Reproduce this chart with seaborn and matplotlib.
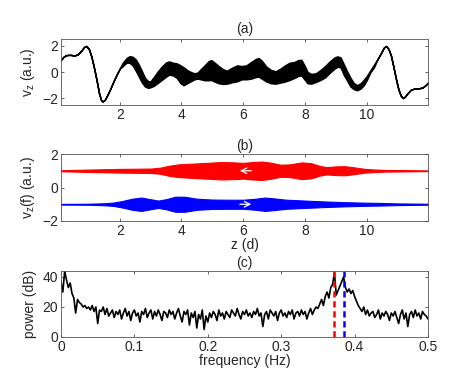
import numpy as np
import pandas as pd
import matplotlib
matplotlib.use("Agg")
import matplotlib.pyplot as plt
import seaborn as sns

# (a) total v_z: slow wave with a fast-oscillation band, read as upper/lower envelope
z_a = [0.1, 0.18, 0.27, 0.4, 0.54, 0.65, 0.75, 0.85, 0.92, 1.0, 1.08, 1.17,
       1.25, 1.33, 1.4, 1.45, 1.52, 1.6, 1.7, 1.8, 1.9, 2.0,
       2.1, 2.22, 2.32, 2.42, 2.52, 2.62, 2.72, 2.82, 2.92, 3.0, 3.1, 3.22,
       3.36, 3.5, 3.6, 3.72, 3.85, 3.97, 4.07, 4.18, 4.3, 4.42, 4.52, 4.62,
       4.75, 4.88, 4.96, 5.05, 5.2, 5.35, 5.48, 5.62, 5.8, 5.95, 6.1, 6.25,
       6.4, 6.5, 6.6, 6.75, 6.9, 7.05, 7.2, 7.35, 7.5, 7.65, 7.78, 7.88,
       7.98, 8.08, 8.2, 8.35, 8.5, 8.65, 8.8, 8.95, 9.05, 9.15, 9.25, 9.35,
       9.47, 9.58, 9.69, 9.8, 9.9, 10.0, 10.12, 10.23,
       10.35, 10.45, 10.55, 10.62, 10.7, 10.78, 10.86, 10.94, 11.02, 11.1,
       11.17, 11.24, 11.32, 11.42, 11.53, 11.65, 11.8, 11.9, 11.98]
upper_a = [0.92, 1.15, 1.28, 1.3, 1.25, 1.35, 1.6, 1.9, 1.97, 1.75, 1.2, 0.3,
           -0.6, -1.6, -2.15, -2.23, -2.1, -1.75, -1.25, -0.7, -0.2, 0.25,
           0.7, 1.05, 1.2, 1.15, 0.95, 0.55, 0.05, -0.45, -0.7, -0.7, -0.4, 0.0,
           0.4, 0.72, 0.8, 0.7, 0.65, 0.5, 0.35, 0.15, 0.0, -0.1, -0.05, 0.2,
           0.5, 0.82, 0.9, 0.75, 0.45, 0.2, 0.1, 0.3, 0.5, 0.45, 0.5, 0.75,
           0.98, 1.05, 0.85, 0.4, 0.15, 0.05, 0.25, 0.5, 0.7, 0.75, 0.9, 0.92,
           0.5, 0.0, -0.15, -0.1, 0.15, 0.45, 0.8, 1.1, 1.18, 1.1, 0.6, 0.1,
           -0.45, -0.85, -1.0, -0.85, -0.6, -0.3, 0.15, 0.55,
           1.0, 1.4, 1.85, 1.97, 1.75, 1.25, 0.4, -0.5, -1.3, -1.8,
           -1.97, -1.85, -1.6, -1.35, -1.26, -1.25, -1.18, -1.0, -0.8]
lower_a = [0.92, 1.15, 1.28, 1.3, 1.25, 1.35, 1.6, 1.9, 1.97, 1.75, 1.2, 0.3,
           -0.6, -1.6, -2.15, -2.23, -2.1, -1.75, -1.25, -0.7, -0.2, 0.25,
           0.45, 0.7, 0.7, 0.5, 0.1, -0.35, -0.8, -1.1, -1.2, -1.15, -1.05, -0.85,
           -0.6, -0.35, -0.2, -0.25, -0.45, -0.85, -1.0, -0.85, -0.7, -0.55, -0.5, -0.55,
           -0.62, -0.62, -0.6, -0.7, -0.85, -0.9, -0.88, -0.78, -0.7, -0.55, -0.55, -0.5,
           -0.38, -0.35, -0.5, -0.72, -0.85, -0.88, -0.8, -0.72, -0.6, -0.45, -0.3, -0.25,
           -0.55, -0.85, -0.88, -0.75, -0.6, -0.4, -0.05, 0.25, 0.4, 0.35, -0.2, -0.6,
           -1.1, -1.3, -1.38, -1.25, -1.0, -0.6, 0.0, 0.35,
           1.0, 1.4, 1.85, 1.97, 1.75, 1.25, 0.4, -0.5, -1.3, -1.8,
           -1.97, -1.85, -1.6, -1.35, -1.26, -1.25, -1.18, -1.0, -0.8]

# (b) filtered components: half-width of each envelope along z
z_red = [0.1, 1.0, 1.5, 2.0, 2.5, 3.0, 3.3, 3.6, 3.9, 4.3, 4.8, 5.3, 5.7, 6.0,
         6.3, 6.6, 6.9, 7.2, 7.5, 7.9, 8.2, 8.5, 8.7, 9.0, 9.3, 9.6, 9.9,
         10.2, 10.6, 11.2, 11.98]
hw_red = [0.03, 0.07, 0.09, 0.11, 0.12, 0.13, 0.18, 0.3, 0.38, 0.42, 0.47, 0.52,
          0.5, 0.47, 0.52, 0.55, 0.48, 0.36, 0.38, 0.5, 0.45, 0.28, 0.22, 0.26,
          0.27, 0.2, 0.12, 0.08, 0.05, 0.04, 0.02]
z_blue = [0.1, 1.0, 1.5, 1.8, 2.1, 2.4, 2.7, 3.0, 3.25, 3.5, 3.8, 4.1, 4.5, 5.0,
          5.5, 6.0, 6.4, 6.7, 7.0, 7.4, 8.0, 8.6, 9.2, 9.8, 10.4, 11.0, 11.98]
hw_blue = [0.02, 0.03, 0.06, 0.1, 0.2, 0.33, 0.4, 0.3, 0.22, 0.3, 0.45, 0.45,
           0.33, 0.28, 0.27, 0.27, 0.33, 0.4, 0.35, 0.27, 0.22, 0.17, 0.13, 0.1,
           0.08, 0.05, 0.03]
red_offset = 1.0
blue_offset = -1.0

# (c) power spectrum, 0.0025 Hz steps from 0 to 0.5
power_db = [
    37, 30, 44, 38, 33, 36, 29, 26, 16, 25,
    23, 22, 20, 21, 19, 20, 18, 21, 17, 20,
    9, 18, 17, 20, 15, 19, 14, 16, 18, 13,
    17, 15, 18, 12, 16, 19, 14, 17, 11, 16,
    18, 14, 16, 10, 17, 15, 19, 13, 16, 18,
    12, 17, 14, 18, 15, 11, 17, 16, 13, 18,
    15, 17, 12, 16, 19, 14, 10, 17, 15, 18,
    8, 16, 13, 17, 6, 15, 12, 18, 5, 14,
    10, 16, 13, 17, 15, 11, 18, 14, 16, 12,
    17, 15, 13, 18, 16, 14, 19, 15, 12, 17,
    15, 18, 14, 16, 13, 17, 15, 19, 14, 16,
    7, 15, 17, 12, 18, 16, 14, 17, 11, 16,
    18, 14, 16, 13, 17, 15, 18, 12, 16, 17,
    14, 18, 15, 17, 12, 16, 19, 15, 18, 20,
    19, 22, 25, 21, 27, 30, 26, 33, 35, 43,
    28, 31, 34, 37, 40, 33, 30, 32, 29, 31,
    27, 24, 21, 19, 17, 20, 15, 18, 14, 16,
    17, 13, 15, 18, 12, 16, 14, 17, 15, 11,
    16, 14, 17, 13, 9, 15, 18, 12, 16, 7,
    15, 17, 13, 18, 14, 16, 12, 17, 15, 14,
    12]
freq = [i * 0.0025 for i in range(len(power_db))]
f_red = 0.372
f_blue = 0.385

sns.set_style("ticks")
plt.rcParams['font.family'] = ['Liberation Sans', 'DejaVu Sans']
plt.rcParams['font.size'] = 10
plt.rcParams['axes.linewidth'] = 0.6
FS = 10

W, H = 474, 387
fig = plt.figure(figsize=(W / 100, H / 100), dpi=100)
left, width = 61 / W, 367 / W
ax_a = fig.add_axes([left, (H - 105) / H, width, 66 / H])
ax_b = fig.add_axes([left, (H - 221) / H, width, 67 / H])
ax_c = fig.add_axes([left, (H - 337) / H, width, 66 / H])

# (a)
ax_a.fill_between(z_a, lower_a, upper_a, color='black', lw=1.1)
ax_a.set_xlim(0.1, 11.98)
ax_a.set_ylim(-2.5, 2.5)
ax_a.set_xticks([2, 4, 6, 8, 10])
ax_a.set_yticks([-2, 0, 2])
ax_a.set_ylabel('v$_\\mathregular{z}$ (a.u.)', fontsize=FS)
ax_a.set_title('(a)', fontsize=FS, pad=4)

# (b)
red_df = pd.DataFrame({'z': z_red, 'hw': hw_red})
blue_df = pd.DataFrame({'z': z_blue, 'hw': hw_blue})
ax_b.fill_between(red_df['z'], red_offset - red_df['hw'], red_offset + red_df['hw'],
                  color='red', lw=0.8)
ax_b.fill_between(blue_df['z'], blue_offset - blue_df['hw'], blue_offset + blue_df['hw'],
                  color='blue', lw=0.8)
ax_b.annotate('', xy=(5.8, red_offset), xytext=(6.35, red_offset),
              arrowprops=dict(arrowstyle='->', color='white', lw=0.9))
ax_b.annotate('', xy=(6.35, blue_offset), xytext=(5.8, blue_offset),
              arrowprops=dict(arrowstyle='->', color='white', lw=0.9))
ax_b.set_xlim(0.1, 11.98)
ax_b.set_ylim(-2, 2)
ax_b.set_xticks([2, 4, 6, 8, 10])
ax_b.set_yticks([-2, 0, 2])
ax_b.set_ylabel('v$_\\mathregular{z}$(f) (a.u.)', fontsize=FS)
ax_b.set_xlabel('z (d)', fontsize=FS, labelpad=0)
ax_b.set_title('(b)', fontsize=FS, pad=3)

# (c)
spec = pd.DataFrame({'frequency': freq, 'power': power_db})
sns.lineplot(data=spec, x='frequency', y='power', color='black', lw=1.2, ax=ax_c)
ax_c.axvline(f_red, color='red', ls=(0, (2.5, 1.5)), lw=1.8)
ax_c.axvline(f_blue, color='blue', ls=(0, (2.5, 1.5)), lw=1.8)
ax_c.set_xlim(0, 0.5)
ax_c.set_ylim(0, 44)
ax_c.set_xticks([0, 0.1, 0.2, 0.3, 0.4, 0.5])
ax_c.set_xticklabels(['0', '0.1', '0.2', '0.3', '0.4', '0.5'])
ax_c.set_yticks([0, 20, 40])
ax_c.set_ylabel('power (dB)', fontsize=FS)
ax_c.set_xlabel('frequency (Hz)', fontsize=FS, labelpad=0)
ax_c.set_title('(c)', fontsize=FS, pad=3)

for ax in (ax_a, ax_b, ax_c):
    ax.tick_params(direction='in', top=True, right=True, length=2.5, width=0.5,
                   labelsize=FS, pad=2)
    for s in ax.spines.values():
        s.set_color('#555555')

fig.savefig('out.png', dpi=100)
